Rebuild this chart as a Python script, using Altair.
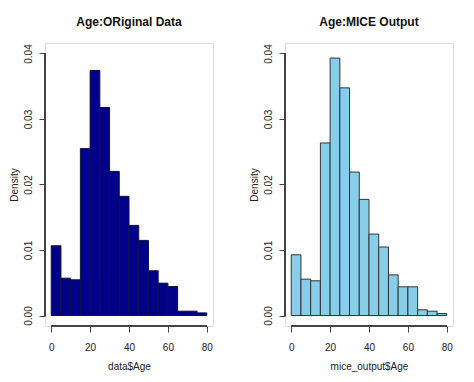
import altair as alt
import pandas as pd

BIN_STARTS = [0, 5, 10, 15, 20, 25, 30, 35, 40, 45, 50, 55, 60, 65, 70, 75]
BIN_WIDTH = 5
ORIG_DENSITY = [0.01065, 0.0057, 0.00545, 0.02548, 0.0374, 0.03175, 0.0220, 0.01819,
                0.01376, 0.01147, 0.00683, 0.00494, 0.00443, 0.00066, 0.00066, 0.0004]
MICE_DENSITY = [0.00927, 0.00555, 0.0053, 0.02634, 0.0393, 0.03475, 0.0219, 0.01773,
                0.01243, 0.01045, 0.0062, 0.00438, 0.00438, 0.00087, 0.00066, 0.0003]
X_TICKS = [0, 20, 40, 60, 80]
Y_TICKS = [0.0, 0.01, 0.02, 0.03, 0.04]
TITLES = ["Age:ORiginal Data", "Age:MICE Output"]
X_TITLES = ["data$Age", "mice_output$Age"]
FILLS = ["#00008B", "#87CEEB"]
STROKES = ["#101040", "#333333"]

W, H = 168, 283
FONT = "Liberation Sans"
XPAD = (X_TICKS[-1] - X_TICKS[0]) * 0.04
YPAD = (Y_TICKS[-1] - Y_TICKS[0]) * 0.04


def panel(dens, title, xtitle, fill, stroke):
    df = pd.DataFrame({
        "start": BIN_STARTS,
        "end": [s + BIN_WIDTH for s in BIN_STARTS],
        "density": dens,
    })
    xs = alt.Scale(domain=[X_TICKS[0] - XPAD, X_TICKS[-1] + XPAD], nice=False, zero=False)
    ys = alt.Scale(domain=[Y_TICKS[0] - YPAD, Y_TICKS[-1] + YPAD], nice=False, zero=False)
    bars = alt.Chart(df).mark_bar(fill=fill, stroke=stroke, strokeWidth=1, opacity=1).encode(
        x=alt.X("start:Q", scale=xs, title=xtitle,
                axis=alt.Axis(values=X_TICKS, domain=False, grid=False, tickSize=6,
                              tickColor="#444", labelPadding=10, titlePadding=9,
                              labelFontSize=10, titleFontSize=10, labelColor="#222",
                              titleColor="#222", titleFontWeight="normal",
                              labelFont=FONT, titleFont=FONT, labelFlush=False)),
        x2="end:Q",
        y=alt.Y("density:Q", scale=ys, title="Density",
                axis=alt.Axis(values=Y_TICKS, domain=False, grid=False, tickSize=6,
                              tickColor="#444", labelPadding=6, titlePadding=4,
                              labelAngle=-90, labelAlign="center", labelBaseline="bottom",
                              labelFontSize=10, titleFontSize=10, labelColor="#222",
                              titleColor="#222", titleFontWeight="normal",
                              labelFont=FONT, titleFont=FONT, format=".2f", labelFlush=False)),
        y2=alt.datum(0),
    )
    xline = alt.Chart(df).mark_rule(color="#444", strokeWidth=1).encode(
        x=alt.datum(X_TICKS[0]), x2=alt.datum(X_TICKS[-1]), y=alt.value(H))
    yline = alt.Chart(df).mark_rule(color="#444", strokeWidth=1).encode(
        y=alt.datum(Y_TICKS[0]), y2=alt.datum(Y_TICKS[-1]), x=alt.value(0))
    return alt.layer(bars, xline, yline).properties(
        width=W, height=H,
        title=alt.TitleParams(title, fontSize=12, fontWeight="bold", font=FONT,
                              color="#111", anchor="middle", offset=14),
    )


left = panel(ORIG_DENSITY, TITLES[0], X_TITLES[0], FILLS[0], STROKES[0])
right = panel(MICE_DENSITY, TITLES[1], X_TITLES[1], FILLS[1], STROKES[1])

chart = alt.hconcat(left, right, spacing=34).properties(
    padding={"left": 0, "top": 7, "right": 0, "bottom": 0}
).configure_view(stroke=None).configure(background="white")

chart.save("out.html", embed_options={"renderer": "svg", "actions": False})
